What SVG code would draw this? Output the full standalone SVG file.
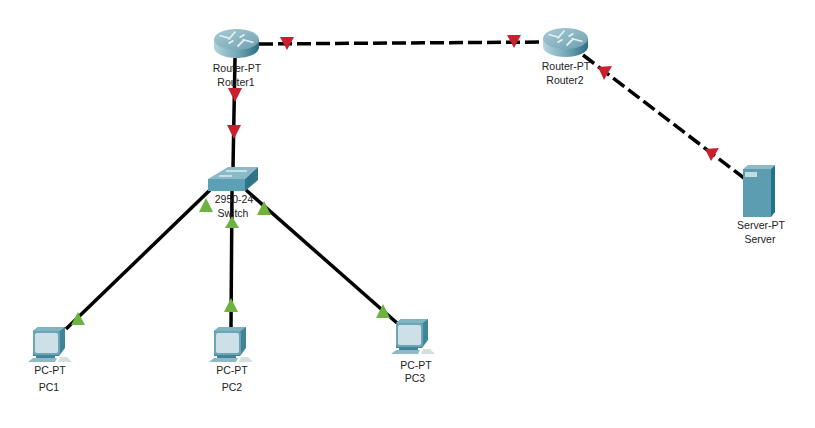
<svg xmlns="http://www.w3.org/2000/svg" width="815" height="428" viewBox="0 0 815 428">
<style>
text{font-family:"Liberation Sans",Arial,sans-serif;font-size:10.5px;fill:#222;text-anchor:middle}
.l{fill:none;stroke:#000;stroke-width:3.5}
.d{stroke-dasharray:14 5}
.r{fill:#c8202f}
.g{fill:#6cb33f}
</style>
<defs>
<linearGradient id="rg" x1="0" x2="1" y1="0" y2="0"><stop offset="0" stop-color="#b5d5dc"/><stop offset=".5" stop-color="#76aaba"/><stop offset="1" stop-color="#2a6f84"/></linearGradient>
<linearGradient id="rt" x1="0" x2="1" y1="0" y2="1"><stop offset="0" stop-color="#a8ccd6"/><stop offset="1" stop-color="#6f9fb0"/></linearGradient>
<g id="router">
<path d="M-22.500 0V8C-22.500 14-12 18.500 0 18.500S22.500 14 22.500 8V0Z" fill="url(#rg)"/>
<ellipse cx="0" cy="0" rx="22.500" ry="10.500" fill="url(#rt)"/>
<path d="M-17-4-6-1M-1-8-8 0M17 3 6 0M1 7 8 0M-8 4-3 1M3-2 8-5" stroke="#e3f0f3" stroke-width="1.800" fill="none"/>
</g>
<g id="pc">
<path d="M-14-20-9-24H18V-3L12 5H-14Z" fill="#3f8497"/>
<path d="M-14-20-9-24H18L13-20Z" fill="#7fb3c0"/>
<rect x="-14" y="-20" width="27" height="24" rx="2" fill="#6ba5b6"/>
<rect x="-12" y="-18" width="23" height="20" rx="2" fill="#cde0e7"/>
<path d="M-11 4H8V7H-11Z" fill="#3f8497"/>
<path d="M-14 7H10L8 11H-19Z" fill="#8fb9c4"/>
<path d="M13 6H20L25 11H11Z" fill="#d5dfe2"/>
</g>
</defs>

<g id="connectors">
<path class="l d" d="M259 44 545 42"/>
<path class="l d" d="M583 55 744 178"/>
<path class="l" d="M235 58 233 168"/>
<path class="l" d="M210 190 66 329"/>
<path class="l" d="M232 190 231 327"/>
<path class="l" d="M246 190 397 323"/>
</g>
<g id="markers">
<path class="r" d="M280 37H294L287 50Z"/>
<path class="r" d="M507 35H521L514 48Z"/>
<path class="r" d="M228 88H242L235 102Z"/>
<path class="r" d="M227 125H241L234 139Z"/>
<path class="r" d="M598 67 612 66 604 80Z"/>
<path class="r" d="M705 149 719 148 711 161Z"/>
<path class="g" d="M206 198 213 212H199Z"/>
<path class="g" d="M232 216 239 228H225Z"/>
<path class="g" d="M264 201 271 215H257Z"/>
<path class="g" d="M78 312 85 325H71Z"/>
<path class="g" d="M231 298 238 312H224Z"/>
<path class="g" d="M383 304 390 318H376Z"/>
</g>

<g id="router1"><use href="#router" x="236.500" y="39.500"/><text x="237" y="72">Router-PT</text><text x="236" y="86">Router1</text></g>
<g id="router2"><use href="#router" x="565.500" y="38.500"/><text x="566" y="70">Router-PT</text><text x="565" y="84">Router2</text></g>
<g id="switch">
<path d="M208 179H245V191H208Z" fill="#5d9fb5"/>
<path d="M208 179 228 167H258L245 179Z" fill="#8abac8"/>
<path d="M245 179 258 167V180L245 191Z" fill="#2f7488"/>
<path d="M219 176H232M226 171H247" stroke="#dcecf0" stroke-width="1.500"/>
<text x="234" y="203">2950-24</text><text x="233" y="217">Switch</text>
</g>
<g id="pc1"><use href="#pc" x="47" y="351"/><text x="50" y="374">PC-PT</text><text x="49" y="391">PC1</text></g>
<g id="pc2"><use href="#pc" x="228" y="351"/><text x="232" y="374">PC-PT</text><text x="232" y="391">PC2</text></g>
<g id="pc3"><use href="#pc" x="410" y="343"/><text x="416" y="369">PC-PT</text><text x="415" y="382">PC3</text></g>
<g id="server">
<path d="M743 169H771V217H743Z" fill="#5c9db1"/>
<path d="M743 169 748 165H775L771 169Z" fill="#8dbac7"/>
<path d="M771 169 775 165V212L771 217Z" fill="#1f7488"/>
<rect x="745" y="172" width="12" height="5" fill="#c2dce3"/>
<text x="761" y="229">Server-PT</text><text x="760" y="243">Server</text>
</g>
</svg>
